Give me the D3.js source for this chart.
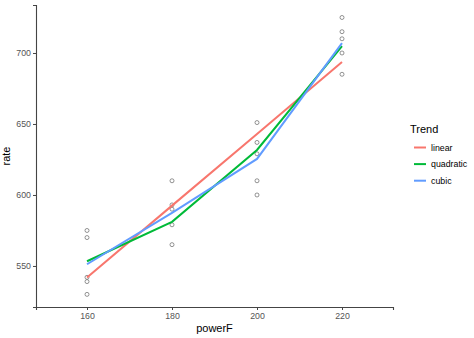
<!DOCTYPE html>
<html>
<head>
<meta charset="utf-8">
<script src="https://cdn.jsdelivr.net/npm/d3@7"></script>
<style>
body { margin: 0; background: #fff; }
text { font-family: "Liberation Sans", Arial, sans-serif; }
</style>
</head>
<body>
<div id="chart"></div>
<script>
// observed rates per power level
var powerLevels = [160, 180, 200, 220];
var rate160 = [575, 542, 530, 539, 570];
var rate180 = [565, 593, 590, 579, 610];
var rate200 = [600, 651, 610, 637, 629];
var rate220 = [725, 700, 715, 685, 710];

// fitted trend values at each power level
var linearFit = [541.9, 592.5, 643.0, 693.6];
var quadraticFit = [553.3, 581.1, 631.7, 704.9];
var cubicFit = [551.2, 587.4, 625.4, 707.0];

var trendNames = ["linear", "quadratic", "cubic"];
var trendColors = ["#F8766D", "#00BA38", "#619CFF"];
var xTicks = [160, 180, 200, 220];
var yTicks = [550, 600, 650, 700];

var svgWidth = 474;
var svgHeight = 338;
var margin = {top: 5, right: 81, bottom: 31, left: 36};
var width = svgWidth - margin.left - margin.right;
var height = svgHeight - margin.top - margin.bottom;

var svg = d3.select("#chart")
    .append("svg")
    .attr("width", svgWidth)
    .attr("height", svgHeight);

var chartGroup = svg.append("g")
    .attr("transform", `translate(${margin.left}, ${margin.top})`);

var xScale = d3.scaleLinear()
    .domain([148, 232])
    .range([0, width]);

var yScale = d3.scaleLinear()
    .domain([521.1, 733.8])
    .range([height, 0]);

var points = [];
[rate160, rate180, rate200, rate220].forEach(function(arr, i) {
    arr.forEach(function(v) {
        points.push({power: powerLevels[i], rate: v});
    });
});

chartGroup.selectAll("circle")
    .data(points)
    .enter()
    .append("circle")
    .attr("cx", d => xScale(d.power))
    .attr("cy", d => yScale(d.rate))
    .attr("r", 2)
    .attr("fill", "none")
    .attr("stroke", "#666")
    .attr("stroke-width", 0.7);

var fits = [linearFit, quadraticFit, cubicFit];
var line = d3.line()
    .x((d, i) => xScale(powerLevels[i]))
    .y(d => yScale(d));

fits.forEach(function(f, i) {
    chartGroup.append("path")
        .datum(f)
        .attr("d", line)
        .attr("fill", "none")
        .attr("stroke", trendColors[i])
        .attr("stroke-width", 2);
});

var bottomAxis = d3.axisBottom(xScale)
    .tickValues(xTicks)
    .tickSize(3)
    .tickPadding(3);
var leftAxis = d3.axisLeft(yScale)
    .tickValues(yTicks)
    .tickSize(3)
    .tickPadding(2);

var xAxisG = chartGroup.append("g")
    .attr("transform", `translate(0, ${height})`)
    .call(bottomAxis);
var yAxisG = chartGroup.append("g")
    .call(leftAxis);

[xAxisG, yAxisG].forEach(function(g) {
    g.select(".domain").attr("stroke", "#444").attr("stroke-width", 1.1);
    g.selectAll(".tick line").attr("stroke", "#444");
    g.selectAll(".tick text")
        .attr("fill", "#555")
        .style("font-size", "8.8px")
        .style("font-family", "Liberation Sans, Arial, sans-serif");
});

// axis titles
chartGroup.append("text")
    .attr("x", width / 2)
    .attr("y", height + 25)
    .attr("text-anchor", "middle")
    .style("font-size", "11px")
    .text("powerF");

chartGroup.append("text")
    .attr("transform", "rotate(-90)")
    .attr("x", -height / 2)
    .attr("y", -26)
    .attr("text-anchor", "middle")
    .style("font-size", "11px")
    .text("rate");

// legend
var legend = svg.append("g")
    .attr("transform", "translate(410, 0)");

legend.append("text")
    .attr("x", 0)
    .attr("y", 133)
    .style("font-size", "11px")
    .text("Trend");

trendNames.forEach(function(name, i) {
    var y = 147.5 + i * 16.6;
    legend.append("line")
        .attr("x1", 4)
        .attr("x2", 16)
        .attr("y1", y)
        .attr("y2", y)
        .attr("stroke", trendColors[i])
        .attr("stroke-width", 2);
    legend.append("text")
        .attr("x", 21)
        .attr("y", y + 3)
        .style("font-size", "8.8px")
        .text(name);
});
</script>
</body>
</html>
